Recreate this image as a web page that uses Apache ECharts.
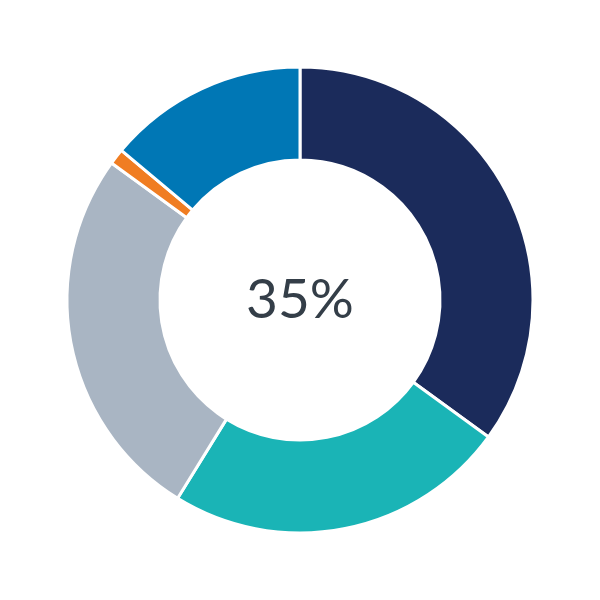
<!DOCTYPE html>
<html>
<head>
    <meta charset="utf-8">
    <title>Donut</title>
    <script src="https://cdn.jsdelivr.net/npm/echarts@6/dist/echarts.min.js"></script>
    <style type="text/css">
        html, body { margin: 0; padding: 0; background: #ffffff; }
        #chart { width: 600px; height: 600px; }
    </style>
</head>
<body>
    <div id="chart"></div>
    <script type="text/javascript">
        var categories = ['A', 'B', 'C', 'D', 'E'];
        var values = [35, 23.8, 26.2, 1.1, 13.9];
        var colors = ['#1b2b5b', '#1ab4b6', '#a9b5c3', '#f07d22', '#0077b5'];
        var centerLabel = '35%';

        var chart = echarts.init(document.getElementById('chart'));

        var data = categories.map(function (name, i) {
            return { name: name, value: values[i], itemStyle: { color: colors[i] } };
        });

        chart.setOption({
            animation: false,
            title: {
                text: centerLabel,
                left: 'center',
                top: 'middle',
                textStyle: {
                    fontFamily: 'Lato',
                    fontWeight: 'normal',
                    fontSize: 55,
                    color: '#343e48'
                }
            },
            series: [
                {
                    type: 'pie',
                    center: ['50%', '50%'],
                    radius: [140, 233],
                    startAngle: 90,
                    clockwise: true,
                    silent: true,
                    label: { show: false },
                    labelLine: { show: false },
                    itemStyle: { borderColor: '#ffffff', borderWidth: 3 },
                    data: data
                }
            ]
        });
    </script>
</body>
</html>
